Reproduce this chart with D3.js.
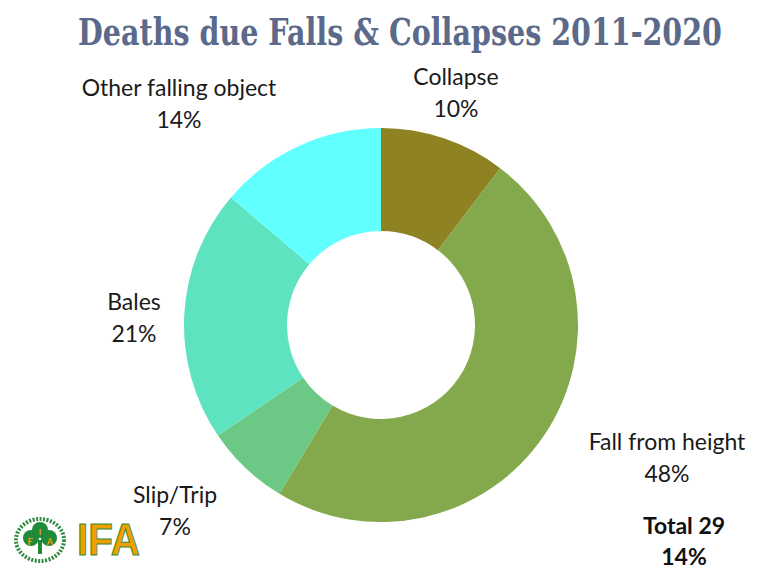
<!DOCTYPE html>
<html><head><meta charset="utf-8">
<script src="https://cdn.jsdelivr.net/npm/d3@7"></script>
<style>body{margin:0;background:#fff}svg{display:block}</style>
</head><body>
<svg id="c" width="768" height="576"></svg>
<script>
const categories = ["Collapse", "Fall from height", "Slip/Trip", "Bales", "Other falling object"];
const deaths = [3, 14, 2, 6, 4];
const percentLabels = ["10%", "48%", "7%", "21%", "14%"];
const colors = ["#8F8223", "#84A84C", "#6CC985", "#5EE3C1", "#62FFFF"];
const totalLabel = "Total 29";
const totalPct = "14%";
const titleText = "Deaths due Falls & Collapses 2011-2020";

// layout (label anchor centres)
const labelPos = [[456, 77], [667, 442], [175, 495], [134, 302], [179, 88]];

const svg = d3.select("#c");
const cx = 381, cy = 325, R = 197, r = 94;

const tg = svg.append("g");
const t = tg.append("text").attr("x", 0).attr("y", 0).attr("text-anchor", "middle")
  .attr("font-family", "DejaVu Serif").attr("font-weight", "bold").attr("font-size", 37)
  .attr("fill", "#5B6A8A").text(titleText);
const w = t.node().getComputedTextLength();
tg.attr("transform", `translate(400,45) scale(${Math.min(1, 644 / w)},1)`);

const pie = d3.pie().sort(null).value(d => d)(deaths);
const arc = d3.arc().innerRadius(r).outerRadius(R);
const g = svg.append("g").attr("transform", `translate(${cx},${cy})`);
g.selectAll("path").data(pie).join("path").attr("d", arc).attr("fill", (d, i) => colors[i]);

const lab = svg.append("g").attr("font-family", "Lato").attr("font-size", 23).attr("fill", "#1a1a1a")
  .attr("text-anchor", "middle");
categories.forEach((c, i) => {
  const [x, y] = labelPos[i];
  lab.append("text").attr("x", x).attr("y", y).attr("dy", "0.35em").text(c);
  lab.append("text").attr("x", x).attr("y", y + 32).attr("dy", "0.35em").text(percentLabels[i]);
});
lab.append("text").attr("x", 684).attr("y", 526).attr("dy", "0.35em").attr("font-weight", "bold").attr("fill", "#111").text(totalLabel);
lab.append("text").attr("x", 684).attr("y", 557).attr("dy", "0.35em").attr("font-weight", "bold").attr("fill", "#111").text(totalPct);

// IFA logo
const logo = svg.append("g");
logo.append("ellipse").attr("cx", 40).attr("cy", 540).attr("rx", 24).attr("ry", 21)
  .attr("fill", "none").attr("stroke", "#2E8B3E").attr("stroke-width", 4).attr("stroke-dasharray", "2 1.5");
[[-9, -4], [9, -4], [0, -12]].forEach(([dx, dy]) => {
  logo.append("circle").attr("cx", 40 + dx).attr("cy", 542 + dy).attr("r", 8).attr("fill", "#1F8A3A");
});
logo.append("rect").attr("x", 38).attr("y", 540).attr("width", 4).attr("height", 14).attr("fill", "#1F8A3A");
logo.append("text").attr("x", 30).attr("y", 545).attr("font-family", "Lato").attr("font-weight", "bold")
  .attr("font-size", 9).attr("fill", "#F0A000").attr("text-anchor", "middle").text("F");
logo.append("text").attr("x", 50).attr("y", 545).attr("font-family", "Lato").attr("font-weight", "bold")
  .attr("font-size", 9).attr("fill", "#F0A000").attr("text-anchor", "middle").text("A");
logo.append("text").attr("x", 40).attr("y", 535).attr("font-family", "Lato").attr("font-weight", "bold")
  .attr("font-size", 8).attr("fill", "#F0A000").attr("text-anchor", "middle").text("I");
logo.append("text").attr("x", 77).attr("y", 555).attr("font-family", "Liberation Sans").attr("font-weight", "bold")
  .attr("font-size", 44).attr("fill", "#F0A000").attr("stroke", "#3A8A3A").attr("stroke-width", 1)
  .attr("textLength", 63).attr("lengthAdjust", "spacingAndGlyphs").text("IFA");
</script>
</body></html>
